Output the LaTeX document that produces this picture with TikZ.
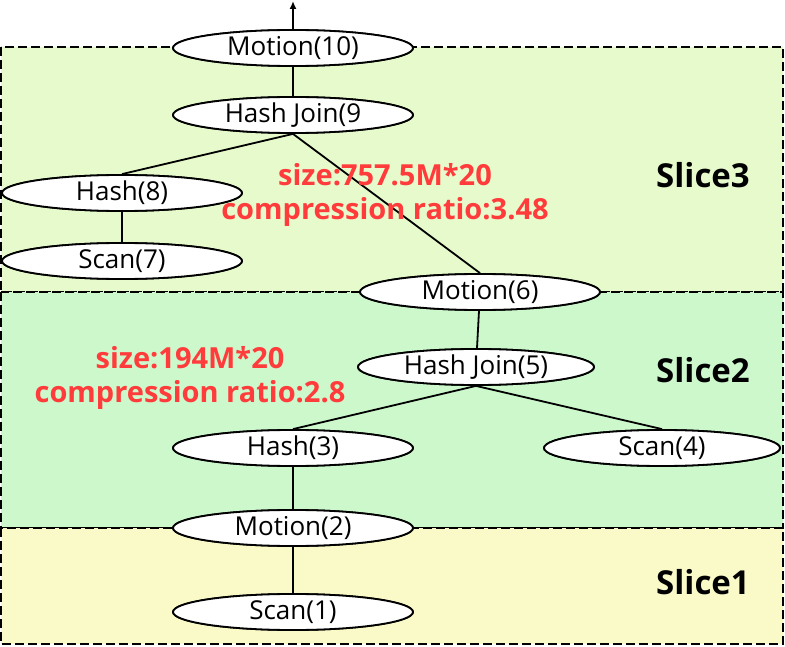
\documentclass[tikz,border=0pt]{standalone}
\usepackage{fontspec}
\setmainfont{Open Sans}
\usetikzlibrary{shapes.geometric,arrows.meta}
\definecolor{sthree}{HTML}{E6FACC}
\definecolor{stwo}{HTML}{CCF8CC}
\definecolor{sone}{HTML}{FAF9C8}
\definecolor{redt}{HTML}{FF3B3B}
\begin{document}
\begin{tikzpicture}[x=1pt,y=-1pt,
  op/.style={ellipse,draw,line width=1.8pt,fill=white,minimum width=240pt,minimum height=36pt,inner sep=0pt,font=\fontsize{26}{30}\selectfont},
  slice/.style={draw,line width=1.5pt,dash pattern=on 9pt off 4pt},
  lbl/.style={font=\bfseries\fontsize{33}{36}\selectfont},
  rt/.style={text=redt,font=\bfseries\fontsize{29}{34}\selectfont,align=center},
  conn/.style={line width=1.8pt}]
\useasboundingbox (0,0) rectangle (785,647);
\draw[slice,fill=sthree] (1,47) rectangle (783,292);
\draw[slice,fill=stwo] (1,292) rectangle (783,528);
\draw[slice,fill=sone] (1,528) rectangle (783,644);
\node[lbl] (l3) at (703,175) {Slice3};
\node[lbl] (l2) at (703,370) {Slice2};
\node[lbl] (l1) at (703,582) {Slice1};
\node[op] (m10) at (293,48) {Motion(10)};
\node[op] (hj9) at (293,115) {Hash Join(9};
\node[op] (h8) at (122,193) {Hash(8)};
\node[op] (s7) at (122,261) {Scan(7)};
\node[op] (m6) at (480,292) {Motion(6)};
\node[op,minimum width=236pt] (hj5) at (476,367) {Hash Join(5)};
\node[op] (h3) at (293,448) {Hash(3)};
\node[op,minimum width=236pt] (s4) at (662,448) {Scan(4)};
\node[op] (m2) at (293,528) {Motion(2)};
\node[op] (s1) at (293,612) {Scan(1)};
\coordinate (top) at (293,1);
\draw[conn,-{Latex[length=8pt,width=7pt]}] (m10.north) -- (top);
\draw[conn] (m10) -- (hj9);
\draw[conn] (hj9.south) -- (h8.north);
\draw[conn] (h8) -- (s7);
\draw[conn] (hj9.south) -- (m6.north);
\draw[conn] (m6) -- (hj5);
\draw[conn] (hj5.south) -- (h3.north);
\draw[conn] (hj5.south) -- (s4.north);
\draw[conn] (h3) -- (m2);
\draw[conn] (m2) -- (s1);
\node[op] at (m10) {Motion(10)};
\node[op] at (hj9) {Hash Join(9};
\node[op] at (h8) {Hash(8)};
\node[op] at (s7) {Scan(7)};
\node[op] at (m6) {Motion(6)};
\node[op,minimum width=236pt] at (hj5) {Hash Join(5)};
\node[op] at (h3) {Hash(3)};
\node[op,minimum width=236pt] at (s4) {Scan(4)};
\node[op] at (m2) {Motion(2)};
\node[op] at (s1) {Scan(1)};
\node[rt] (t1) at (385,195) {size:757.5M*20\\compression ratio:3.48};
\node[rt] (t2) at (190,378) {size:194M*20\\compression ratio:2.8};
\end{tikzpicture}
\end{document}
